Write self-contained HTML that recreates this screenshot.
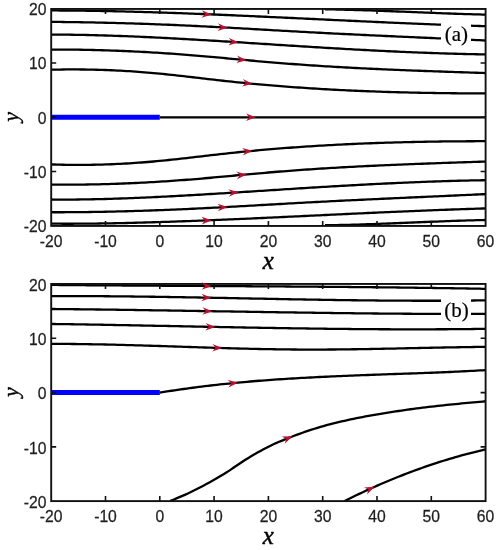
<!DOCTYPE html>
<html><head><meta charset="utf-8"><title>Streamlines</title>
<style>
html,body{margin:0;padding:0;background:#fff;}
body{width:500px;height:550px;overflow:hidden;}
svg{display:block;}
.t{font-family:"Liberation Sans",Arial,sans-serif;font-size:15.7px;fill:#1f1f1f;stroke:#1f1f1f;stroke-width:0.25px;}
.lab{font-family:"Liberation Serif","Times New Roman",serif;font-size:21px;fill:#000;stroke:#000;stroke-width:0.2px;}
.yl{font-family:"Liberation Serif","Times New Roman",serif;font-style:italic;font-size:22px;fill:#000;stroke:#000;stroke-width:0.45px;}
.xl{font-family:"Liberation Serif","Times New Roman",serif;font-style:italic;font-size:25px;fill:#000;stroke:#000;stroke-width:0.45px;}
</style></head><body>
<svg width="500" height="550" viewBox="0 0 500 550">
<defs><clipPath id="ca"><rect x="51.2" y="8.95" width="434.40000000000003" height="217.0"/></clipPath><clipPath id="cb"><rect x="51.2" y="283.95" width="434.40000000000003" height="217.15000000000003"/></clipPath></defs>
<rect width="500" height="550" fill="#fff"/>
<g clip-path="url(#ca)" fill="none" stroke="#000" stroke-width="2.3">
<path d="M325.0,9.33 L328.0,9.37 L331.1,9.42 L334.1,9.47 L337.1,9.53 L340.2,9.60 L343.2,9.66 L346.2,9.74 L349.2,9.81 L352.3,9.89 L355.3,9.98 L358.3,10.07 L361.4,10.16 L364.4,10.26 L367.4,10.36 L370.5,10.46 L373.5,10.56 L376.5,10.67 L379.5,10.78 L382.6,10.89 L385.6,11.01 L388.6,11.12 L391.7,11.24 L394.7,11.36 L397.7,11.48 L400.8,11.60 L403.8,11.72 L406.8,11.85 L409.8,11.97 L412.9,12.09 L415.9,12.22 L418.9,12.34 L422.0,12.46 L425.0,12.58 L428.0,12.71 L431.1,12.83 L434.1,12.95 L437.1,13.07 L440.1,13.18 L443.2,13.30 L446.2,13.41 L449.2,13.52 L452.3,13.63 L455.3,13.74 L458.3,13.84 L461.4,13.94 L464.4,14.04 L467.4,14.13 L470.4,14.22 L473.5,14.31 L476.5,14.39 L479.5,14.47 L482.6,14.55 L485.6,14.62"/>
<path d="M325.0,225.27 L328.0,225.23 L331.1,225.18 L334.1,225.13 L337.1,225.07 L340.2,225.00 L343.2,224.94 L346.2,224.86 L349.2,224.79 L352.3,224.71 L355.3,224.62 L358.3,224.53 L361.4,224.44 L364.4,224.34 L367.4,224.24 L370.5,224.14 L373.5,224.04 L376.5,223.93 L379.5,223.82 L382.6,223.71 L385.6,223.59 L388.6,223.48 L391.7,223.36 L394.7,223.24 L397.7,223.12 L400.8,223.00 L403.8,222.88 L406.8,222.75 L409.8,222.63 L412.9,222.51 L415.9,222.38 L418.9,222.26 L422.0,222.14 L425.0,222.02 L428.0,221.89 L431.1,221.77 L434.1,221.65 L437.1,221.53 L440.1,221.42 L443.2,221.30 L446.2,221.19 L449.2,221.08 L452.3,220.97 L455.3,220.86 L458.3,220.76 L461.4,220.66 L464.4,220.56 L467.4,220.47 L470.4,220.38 L473.5,220.29 L476.5,220.21 L479.5,220.13 L482.6,220.05 L485.6,219.98"/>
<path d="M51.0,10.44 L54.0,10.45 L57.0,10.46 L60.1,10.48 L63.1,10.50 L66.1,10.52 L69.1,10.55 L72.1,10.58 L75.1,10.61 L78.2,10.64 L81.2,10.68 L84.2,10.72 L87.2,10.76 L90.2,10.81 L93.3,10.86 L96.3,10.91 L99.3,10.96 L102.3,11.02 L105.3,11.07 L108.3,11.13 L111.4,11.20 L114.4,11.26 L117.4,11.33 L120.4,11.40 L123.4,11.47 L126.5,11.55 L129.5,11.62 L132.5,11.70 L135.5,11.78 L138.5,11.86 L141.5,11.95 L144.6,12.04 L147.6,12.12 L150.6,12.22 L153.6,12.31 L156.6,12.40 L159.7,12.50 L162.7,12.60 L165.7,12.70 L168.7,12.80 L171.7,12.90 L174.7,13.01 L177.8,13.11 L180.8,13.22 L183.8,13.33 L186.8,13.44 L189.8,13.55 L192.8,13.67 L195.9,13.78 L198.9,13.90 L201.9,14.02 L204.9,14.14 L207.9,14.26 L211.0,14.38 L214.0,14.51 L217.0,14.63 L220.0,14.76 L223.0,14.88 L226.0,15.01 L229.1,15.14 L232.1,15.27 L235.1,15.40 L238.1,15.53 L241.1,15.66 L244.2,15.80 L247.2,15.93 L250.2,16.07 L253.2,16.20 L256.2,16.34 L259.2,16.48 L262.3,16.61 L265.3,16.75 L268.3,16.89 L271.3,17.03 L274.3,17.17 L277.4,17.31 L280.4,17.45 L283.4,17.59 L286.4,17.74 L289.4,17.88 L292.4,18.02 L295.5,18.16 L298.5,18.31 L301.5,18.45 L304.5,18.59 L307.5,18.74 L310.6,18.88 L313.6,19.02 L316.6,19.17 L319.6,19.31 L322.6,19.45 L325.6,19.60 L328.7,19.74 L331.7,19.88 L334.7,20.03 L337.7,20.17 L340.7,20.31 L343.8,20.46 L346.8,20.60 L349.8,20.74 L352.8,20.88 L355.8,21.02 L358.8,21.16 L361.9,21.30 L364.9,21.44 L367.9,21.58 L370.9,21.72 L373.9,21.86 L377.0,21.99 L380.0,22.13 L383.0,22.26 L386.0,22.40 L389.0,22.53 L392.0,22.66 L395.1,22.80 L398.1,22.93 L401.1,23.06 L404.1,23.19 L407.1,23.32 L410.1,23.44 L413.2,23.57 L416.2,23.69 L419.2,23.82 L422.2,23.94 L425.2,24.06 L428.3,24.18 L431.3,24.30 L434.3,24.42 L437.3,24.53 L440.3,24.65 L443.3,24.76 L446.4,24.87 L449.4,24.98 L452.4,25.09 L455.4,25.20 L458.4,25.31 L461.5,25.41 L464.5,25.51 L467.5,25.61 L470.5,25.71 L473.5,25.81 L476.5,25.90 L479.6,26.00 L482.6,26.09 L485.6,26.18"/>
<path d="M51.0,223.66 L54.0,223.69 L57.0,223.71 L60.1,223.72 L63.1,223.73 L66.1,223.73 L69.1,223.73 L72.1,223.73 L75.1,223.72 L78.2,223.70 L81.2,223.68 L84.2,223.66 L87.2,223.63 L90.2,223.60 L93.3,223.57 L96.3,223.53 L99.3,223.49 L102.3,223.44 L105.3,223.40 L108.3,223.35 L111.4,223.29 L114.4,223.23 L117.4,223.17 L120.4,223.11 L123.4,223.05 L126.5,222.98 L129.5,222.91 L132.5,222.83 L135.5,222.76 L138.5,222.68 L141.5,222.60 L144.6,222.52 L147.6,222.43 L150.6,222.34 L153.6,222.25 L156.6,222.16 L159.7,222.07 L162.7,221.97 L165.7,221.87 L168.7,221.78 L171.7,221.67 L174.7,221.57 L177.8,221.47 L180.8,221.36 L183.8,221.25 L186.8,221.14 L189.8,221.03 L192.8,220.92 L195.9,220.80 L198.9,220.69 L201.9,220.57 L204.9,220.45 L207.9,220.33 L211.0,220.21 L214.0,220.09 L217.0,219.96 L220.0,219.84 L223.0,219.71 L226.0,219.58 L229.1,219.46 L232.1,219.33 L235.1,219.20 L238.1,219.06 L241.1,218.93 L244.2,218.80 L247.2,218.66 L250.2,218.53 L253.2,218.39 L256.2,218.26 L259.2,218.12 L262.3,217.98 L265.3,217.85 L268.3,217.71 L271.3,217.57 L274.3,217.43 L277.4,217.29 L280.4,217.15 L283.4,217.00 L286.4,216.86 L289.4,216.72 L292.4,216.58 L295.5,216.44 L298.5,216.29 L301.5,216.15 L304.5,216.01 L307.5,215.86 L310.6,215.72 L313.6,215.58 L316.6,215.43 L319.6,215.29 L322.6,215.14 L325.6,215.00 L328.7,214.86 L331.7,214.71 L334.7,214.57 L337.7,214.43 L340.7,214.29 L343.8,214.14 L346.8,214.00 L349.8,213.86 L352.8,213.72 L355.8,213.58 L358.8,213.44 L361.9,213.30 L364.9,213.16 L367.9,213.02 L370.9,212.88 L373.9,212.74 L377.0,212.61 L380.0,212.47 L383.0,212.34 L386.0,212.20 L389.0,212.07 L392.0,211.94 L395.1,211.80 L398.1,211.67 L401.1,211.54 L404.1,211.41 L407.1,211.28 L410.1,211.16 L413.2,211.03 L416.2,210.91 L419.2,210.78 L422.2,210.66 L425.2,210.54 L428.3,210.42 L431.3,210.30 L434.3,210.18 L437.3,210.07 L440.3,209.95 L443.3,209.84 L446.4,209.73 L449.4,209.62 L452.4,209.51 L455.4,209.40 L458.4,209.29 L461.5,209.19 L464.5,209.09 L467.5,208.99 L470.5,208.89 L473.5,208.79 L476.5,208.70 L479.6,208.60 L482.6,208.51 L485.6,208.42"/>
<path d="M51.0,21.89 L54.0,21.91 L57.0,21.94 L60.1,21.97 L63.1,22.00 L66.1,22.04 L69.1,22.07 L72.1,22.11 L75.1,22.16 L78.2,22.20 L81.2,22.25 L84.2,22.30 L87.2,22.36 L90.2,22.41 L93.3,22.47 L96.3,22.53 L99.3,22.60 L102.3,22.66 L105.3,22.73 L108.3,22.81 L111.4,22.88 L114.4,22.96 L117.4,23.04 L120.4,23.12 L123.4,23.20 L126.5,23.29 L129.5,23.38 L132.5,23.47 L135.5,23.57 L138.5,23.66 L141.5,23.76 L144.6,23.87 L147.6,23.97 L150.6,24.08 L153.6,24.19 L156.6,24.30 L159.7,24.41 L162.7,24.53 L165.7,24.65 L168.7,24.77 L171.7,24.90 L174.7,25.02 L177.8,25.15 L180.8,25.29 L183.8,25.42 L186.8,25.56 L189.8,25.70 L192.8,25.84 L195.9,25.98 L198.9,26.13 L201.9,26.28 L204.9,26.43 L207.9,26.58 L211.0,26.74 L214.0,26.89 L217.0,27.05 L220.0,27.21 L223.0,27.38 L226.0,27.54 L229.1,27.70 L232.1,27.87 L235.1,28.04 L238.1,28.21 L241.1,28.38 L244.2,28.55 L247.2,28.72 L250.2,28.89 L253.2,29.07 L256.2,29.24 L259.2,29.41 L262.3,29.58 L265.3,29.76 L268.3,29.93 L271.3,30.10 L274.3,30.28 L277.4,30.45 L280.4,30.62 L283.4,30.79 L286.4,30.96 L289.4,31.13 L292.4,31.30 L295.5,31.47 L298.5,31.64 L301.5,31.80 L304.5,31.96 L307.5,32.13 L310.6,32.29 L313.6,32.45 L316.6,32.60 L319.6,32.76 L322.6,32.92 L325.6,33.07 L328.7,33.23 L331.7,33.38 L334.7,33.53 L337.7,33.68 L340.7,33.83 L343.8,33.98 L346.8,34.13 L349.8,34.27 L352.8,34.42 L355.8,34.57 L358.8,34.71 L361.9,34.85 L364.9,35.00 L367.9,35.14 L370.9,35.28 L373.9,35.42 L377.0,35.56 L380.0,35.70 L383.0,35.84 L386.0,35.98 L389.0,36.12 L392.0,36.26 L395.1,36.39 L398.1,36.53 L401.1,36.67 L404.1,36.80 L407.1,36.94 L410.1,37.08 L413.2,37.21 L416.2,37.35 L419.2,37.48 L422.2,37.62 L425.2,37.75 L428.3,37.89 L431.3,38.02 L434.3,38.16 L437.3,38.30 L440.3,38.43 L443.3,38.57 L446.4,38.70 L449.4,38.84 L452.4,38.97 L455.4,39.11 L458.4,39.25 L461.5,39.39 L464.5,39.52 L467.5,39.66 L470.5,39.80 L473.5,39.94 L476.5,40.08 L479.6,40.22 L482.6,40.36 L485.6,40.50"/>
<path d="M51.0,212.21 L54.0,212.23 L57.0,212.23 L60.1,212.23 L63.1,212.23 L66.1,212.22 L69.1,212.21 L72.1,212.19 L75.1,212.17 L78.2,212.14 L81.2,212.11 L84.2,212.08 L87.2,212.04 L90.2,212.00 L93.3,211.95 L96.3,211.91 L99.3,211.85 L102.3,211.80 L105.3,211.74 L108.3,211.68 L111.4,211.61 L114.4,211.54 L117.4,211.47 L120.4,211.39 L123.4,211.32 L126.5,211.23 L129.5,211.15 L132.5,211.06 L135.5,210.97 L138.5,210.88 L141.5,210.78 L144.6,210.69 L147.6,210.58 L150.6,210.48 L153.6,210.37 L156.6,210.26 L159.7,210.15 L162.7,210.04 L165.7,209.92 L168.7,209.80 L171.7,209.68 L174.7,209.55 L177.8,209.42 L180.8,209.29 L183.8,209.16 L186.8,209.03 L189.8,208.89 L192.8,208.75 L195.9,208.61 L198.9,208.46 L201.9,208.31 L204.9,208.16 L207.9,208.01 L211.0,207.86 L214.0,207.70 L217.0,207.54 L220.0,207.38 L223.0,207.22 L226.0,207.05 L229.1,206.89 L232.1,206.72 L235.1,206.56 L238.1,206.39 L241.1,206.22 L244.2,206.05 L247.2,205.88 L250.2,205.70 L253.2,205.53 L256.2,205.36 L259.2,205.19 L262.3,205.01 L265.3,204.84 L268.3,204.67 L271.3,204.49 L274.3,204.32 L277.4,204.15 L280.4,203.98 L283.4,203.81 L286.4,203.64 L289.4,203.47 L292.4,203.30 L295.5,203.13 L298.5,202.96 L301.5,202.80 L304.5,202.64 L307.5,202.47 L310.6,202.31 L313.6,202.15 L316.6,201.99 L319.6,201.84 L322.6,201.68 L325.6,201.53 L328.7,201.37 L331.7,201.22 L334.7,201.07 L337.7,200.92 L340.7,200.77 L343.8,200.62 L346.8,200.47 L349.8,200.33 L352.8,200.18 L355.8,200.03 L358.8,199.89 L361.9,199.75 L364.9,199.60 L367.9,199.46 L370.9,199.32 L373.9,199.18 L377.0,199.04 L380.0,198.90 L383.0,198.76 L386.0,198.62 L389.0,198.48 L392.0,198.34 L395.1,198.21 L398.1,198.07 L401.1,197.93 L404.1,197.80 L407.1,197.66 L410.1,197.52 L413.2,197.39 L416.2,197.25 L419.2,197.12 L422.2,196.98 L425.2,196.85 L428.3,196.71 L431.3,196.58 L434.3,196.44 L437.3,196.30 L440.3,196.17 L443.3,196.03 L446.4,195.90 L449.4,195.76 L452.4,195.63 L455.4,195.49 L458.4,195.35 L461.5,195.21 L464.5,195.08 L467.5,194.94 L470.5,194.80 L473.5,194.66 L476.5,194.52 L479.6,194.38 L482.6,194.24 L485.6,194.10"/>
<path d="M51.0,34.58 L54.0,34.59 L57.0,34.60 L60.1,34.62 L63.1,34.65 L66.1,34.68 L69.1,34.71 L72.1,34.75 L75.1,34.80 L78.2,34.85 L81.2,34.90 L84.2,34.96 L87.2,35.02 L90.2,35.09 L93.3,35.16 L96.3,35.24 L99.3,35.32 L102.3,35.41 L105.3,35.49 L108.3,35.59 L111.4,35.68 L114.4,35.78 L117.4,35.89 L120.4,36.00 L123.4,36.11 L126.5,36.22 L129.5,36.34 L132.5,36.46 L135.5,36.59 L138.5,36.72 L141.5,36.85 L144.6,36.98 L147.6,37.12 L150.6,37.26 L153.6,37.41 L156.6,37.55 L159.7,37.70 L162.7,37.85 L165.7,38.01 L168.7,38.16 L171.7,38.32 L174.7,38.48 L177.8,38.65 L180.8,38.81 L183.8,38.98 L186.8,39.15 L189.8,39.32 L192.8,39.50 L195.9,39.67 L198.9,39.85 L201.9,40.03 L204.9,40.21 L207.9,40.39 L211.0,40.57 L214.0,40.75 L217.0,40.94 L220.0,41.13 L223.0,41.31 L226.0,41.50 L229.1,41.69 L232.1,41.88 L235.1,42.08 L238.1,42.27 L241.1,42.46 L244.2,42.65 L247.2,42.85 L250.2,43.04 L253.2,43.24 L256.2,43.43 L259.2,43.63 L262.3,43.82 L265.3,44.02 L268.3,44.21 L271.3,44.41 L274.3,44.60 L277.4,44.79 L280.4,44.99 L283.4,45.18 L286.4,45.38 L289.4,45.57 L292.4,45.76 L295.5,45.95 L298.5,46.14 L301.5,46.33 L304.5,46.52 L307.5,46.71 L310.6,46.89 L313.6,47.08 L316.6,47.26 L319.6,47.44 L322.6,47.63 L325.6,47.81 L328.7,47.99 L331.7,48.16 L334.7,48.34 L337.7,48.52 L340.7,48.69 L343.8,48.86 L346.8,49.03 L349.8,49.20 L352.8,49.37 L355.8,49.53 L358.8,49.70 L361.9,49.86 L364.9,50.02 L367.9,50.18 L370.9,50.33 L373.9,50.49 L377.0,50.64 L380.0,50.79 L383.0,50.94 L386.0,51.08 L389.0,51.23 L392.0,51.37 L395.1,51.51 L398.1,51.65 L401.1,51.78 L404.1,51.91 L407.1,52.04 L410.1,52.17 L413.2,52.30 L416.2,52.42 L419.2,52.54 L422.2,52.66 L425.2,52.77 L428.3,52.88 L431.3,52.99 L434.3,53.10 L437.3,53.20 L440.3,53.30 L443.3,53.40 L446.4,53.49 L449.4,53.58 L452.4,53.67 L455.4,53.76 L458.4,53.84 L461.5,53.92 L464.5,53.99 L467.5,54.06 L470.5,54.13 L473.5,54.20 L476.5,54.26 L479.6,54.32 L482.6,54.37 L485.6,54.42"/>
<path d="M51.0,199.52 L54.0,199.55 L57.0,199.57 L60.1,199.58 L63.1,199.58 L66.1,199.58 L69.1,199.57 L72.1,199.55 L75.1,199.53 L78.2,199.50 L81.2,199.46 L84.2,199.42 L87.2,199.37 L90.2,199.32 L93.3,199.26 L96.3,199.20 L99.3,199.13 L102.3,199.06 L105.3,198.98 L108.3,198.89 L111.4,198.81 L114.4,198.71 L117.4,198.62 L120.4,198.51 L123.4,198.41 L126.5,198.30 L129.5,198.19 L132.5,198.07 L135.5,197.95 L138.5,197.83 L141.5,197.70 L144.6,197.57 L147.6,197.43 L150.6,197.30 L153.6,197.16 L156.6,197.01 L159.7,196.87 L162.7,196.72 L165.7,196.56 L168.7,196.41 L171.7,196.25 L174.7,196.09 L177.8,195.93 L180.8,195.77 L183.8,195.60 L186.8,195.43 L189.8,195.26 L192.8,195.09 L195.9,194.92 L198.9,194.74 L201.9,194.56 L204.9,194.38 L207.9,194.20 L211.0,194.02 L214.0,193.84 L217.0,193.65 L220.0,193.47 L223.0,193.28 L226.0,193.09 L229.1,192.90 L232.1,192.71 L235.1,192.52 L238.1,192.33 L241.1,192.14 L244.2,191.94 L247.2,191.75 L250.2,191.56 L253.2,191.36 L256.2,191.17 L259.2,190.97 L262.3,190.78 L265.3,190.58 L268.3,190.39 L271.3,190.19 L274.3,190.00 L277.4,189.80 L280.4,189.61 L283.4,189.42 L286.4,189.22 L289.4,189.03 L292.4,188.84 L295.5,188.65 L298.5,188.46 L301.5,188.27 L304.5,188.08 L307.5,187.89 L310.6,187.71 L313.6,187.52 L316.6,187.34 L319.6,187.15 L322.6,186.97 L325.6,186.79 L328.7,186.61 L331.7,186.44 L334.7,186.26 L337.7,186.08 L340.7,185.91 L343.8,185.74 L346.8,185.57 L349.8,185.40 L352.8,185.23 L355.8,185.07 L358.8,184.90 L361.9,184.74 L364.9,184.58 L367.9,184.42 L370.9,184.27 L373.9,184.11 L377.0,183.96 L380.0,183.81 L383.0,183.66 L386.0,183.52 L389.0,183.37 L392.0,183.23 L395.1,183.09 L398.1,182.95 L401.1,182.82 L404.1,182.69 L407.1,182.56 L410.1,182.43 L413.2,182.30 L416.2,182.18 L419.2,182.06 L422.2,181.94 L425.2,181.83 L428.3,181.72 L431.3,181.61 L434.3,181.50 L437.3,181.40 L440.3,181.30 L443.3,181.20 L446.4,181.11 L449.4,181.02 L452.4,180.93 L455.4,180.84 L458.4,180.76 L461.5,180.68 L464.5,180.61 L467.5,180.54 L470.5,180.47 L473.5,180.40 L476.5,180.34 L479.6,180.28 L482.6,180.23 L485.6,180.18"/>
<path d="M51.0,49.55 L54.0,49.54 L57.0,49.55 L60.1,49.55 L63.1,49.57 L66.1,49.59 L69.1,49.61 L72.1,49.64 L75.1,49.68 L78.2,49.72 L81.2,49.77 L84.2,49.82 L87.2,49.88 L90.2,49.94 L93.3,50.01 L96.3,50.09 L99.3,50.17 L102.3,50.25 L105.3,50.35 L108.3,50.44 L111.4,50.54 L114.4,50.65 L117.4,50.77 L120.4,50.88 L123.4,51.01 L126.5,51.14 L129.5,51.27 L132.5,51.41 L135.5,51.56 L138.5,51.71 L141.5,51.86 L144.6,52.02 L147.6,52.19 L150.6,52.36 L153.6,52.54 L156.6,52.72 L159.7,52.91 L162.7,53.10 L165.7,53.29 L168.7,53.50 L171.7,53.70 L174.7,53.92 L177.8,54.13 L180.8,54.36 L183.8,54.58 L186.8,54.82 L189.8,55.05 L192.8,55.30 L195.9,55.55 L198.9,55.80 L201.9,56.06 L204.9,56.32 L207.9,56.58 L211.0,56.86 L214.0,57.13 L217.0,57.40 L220.0,57.68 L223.0,57.96 L226.0,58.25 L229.1,58.53 L232.1,58.81 L235.1,59.09 L238.1,59.38 L241.1,59.66 L244.2,59.94 L247.2,60.21 L250.2,60.49 L253.2,60.76 L256.2,61.03 L259.2,61.30 L262.3,61.56 L265.3,61.82 L268.3,62.08 L271.3,62.33 L274.3,62.58 L277.4,62.83 L280.4,63.07 L283.4,63.31 L286.4,63.55 L289.4,63.78 L292.4,64.01 L295.5,64.24 L298.5,64.46 L301.5,64.67 L304.5,64.89 L307.5,65.10 L310.6,65.30 L313.6,65.51 L316.6,65.70 L319.6,65.90 L322.6,66.09 L325.6,66.28 L328.7,66.46 L331.7,66.64 L334.7,66.82 L337.7,67.00 L340.7,67.17 L343.8,67.34 L346.8,67.50 L349.8,67.66 L352.8,67.82 L355.8,67.98 L358.8,68.13 L361.9,68.29 L364.9,68.43 L367.9,68.58 L370.9,68.73 L373.9,68.87 L377.0,69.01 L380.0,69.14 L383.0,69.28 L386.0,69.41 L389.0,69.54 L392.0,69.67 L395.1,69.80 L398.1,69.92 L401.1,70.05 L404.1,70.17 L407.1,70.29 L410.1,70.41 L413.2,70.53 L416.2,70.64 L419.2,70.76 L422.2,70.87 L425.2,70.98 L428.3,71.09 L431.3,71.20 L434.3,71.31 L437.3,71.42 L440.3,71.52 L443.3,71.63 L446.4,71.74 L449.4,71.84 L452.4,71.94 L455.4,72.05 L458.4,72.15 L461.5,72.25 L464.5,72.36 L467.5,72.46 L470.5,72.56 L473.5,72.66 L476.5,72.76 L479.6,72.86 L482.6,72.97 L485.6,73.07"/>
<path d="M51.0,184.55 L54.0,184.59 L57.0,184.62 L60.1,184.65 L63.1,184.66 L66.1,184.67 L69.1,184.67 L72.1,184.66 L75.1,184.65 L78.2,184.63 L81.2,184.60 L84.2,184.56 L87.2,184.52 L90.2,184.47 L93.3,184.41 L96.3,184.35 L99.3,184.28 L102.3,184.21 L105.3,184.13 L108.3,184.04 L111.4,183.94 L114.4,183.85 L117.4,183.74 L120.4,183.63 L123.4,183.51 L126.5,183.39 L129.5,183.26 L132.5,183.12 L135.5,182.98 L138.5,182.84 L141.5,182.69 L144.6,182.53 L147.6,182.37 L150.6,182.20 L153.6,182.03 L156.6,181.85 L159.7,181.66 L162.7,181.47 L165.7,181.28 L168.7,181.08 L171.7,180.87 L174.7,180.66 L177.8,180.44 L180.8,180.22 L183.8,180.00 L186.8,179.77 L189.8,179.53 L192.8,179.29 L195.9,179.04 L198.9,178.79 L201.9,178.53 L204.9,178.27 L207.9,178.01 L211.0,177.74 L214.0,177.46 L217.0,177.19 L220.0,176.91 L223.0,176.63 L226.0,176.35 L229.1,176.07 L232.1,175.78 L235.1,175.50 L238.1,175.22 L241.1,174.94 L244.2,174.66 L247.2,174.38 L250.2,174.11 L253.2,173.83 L256.2,173.56 L259.2,173.30 L262.3,173.04 L265.3,172.78 L268.3,172.52 L271.3,172.27 L274.3,172.01 L277.4,171.77 L280.4,171.52 L283.4,171.28 L286.4,171.05 L289.4,170.82 L292.4,170.59 L295.5,170.36 L298.5,170.14 L301.5,169.92 L304.5,169.71 L307.5,169.50 L310.6,169.30 L313.6,169.09 L316.6,168.90 L319.6,168.70 L322.6,168.51 L325.6,168.32 L328.7,168.14 L331.7,167.96 L334.7,167.78 L337.7,167.60 L340.7,167.43 L343.8,167.26 L346.8,167.10 L349.8,166.94 L352.8,166.78 L355.8,166.62 L358.8,166.47 L361.9,166.31 L364.9,166.16 L367.9,166.02 L370.9,165.87 L373.9,165.73 L377.0,165.59 L380.0,165.46 L383.0,165.32 L386.0,165.19 L389.0,165.06 L392.0,164.93 L395.1,164.80 L398.1,164.68 L401.1,164.55 L404.1,164.43 L407.1,164.31 L410.1,164.19 L413.2,164.07 L416.2,163.96 L419.2,163.84 L422.2,163.73 L425.2,163.62 L428.3,163.51 L431.3,163.40 L434.3,163.29 L437.3,163.18 L440.3,163.08 L443.3,162.97 L446.4,162.86 L449.4,162.76 L452.4,162.66 L455.4,162.55 L458.4,162.45 L461.5,162.35 L464.5,162.24 L467.5,162.14 L470.5,162.04 L473.5,161.94 L476.5,161.84 L479.6,161.74 L482.6,161.63 L485.6,161.53"/>
<path d="M51.0,69.72 L54.0,69.65 L57.0,69.59 L60.1,69.54 L63.1,69.50 L66.1,69.47 L69.1,69.46 L72.1,69.45 L75.1,69.45 L78.2,69.46 L81.2,69.48 L84.2,69.51 L87.2,69.56 L90.2,69.61 L93.3,69.67 L96.3,69.74 L99.3,69.83 L102.3,69.92 L105.3,70.02 L108.3,70.14 L111.4,70.26 L114.4,70.39 L117.4,70.54 L120.4,70.69 L123.4,70.86 L126.5,71.03 L129.5,71.22 L132.5,71.42 L135.5,71.62 L138.5,71.84 L141.5,72.07 L144.6,72.31 L147.6,72.56 L150.6,72.81 L153.6,73.08 L156.6,73.36 L159.7,73.65 L162.7,73.95 L165.7,74.26 L168.7,74.57 L171.7,74.89 L174.7,75.21 L177.8,75.55 L180.8,75.88 L183.8,76.22 L186.8,76.57 L189.8,76.91 L192.8,77.26 L195.9,77.61 L198.9,77.96 L201.9,78.32 L204.9,78.67 L207.9,79.02 L211.0,79.37 L214.0,79.72 L217.0,80.06 L220.0,80.40 L223.0,80.74 L226.0,81.07 L229.1,81.40 L232.1,81.72 L235.1,82.03 L238.1,82.35 L241.1,82.65 L244.2,82.95 L247.2,83.25 L250.2,83.54 L253.2,83.82 L256.2,84.10 L259.2,84.38 L262.3,84.65 L265.3,84.91 L268.3,85.17 L271.3,85.43 L274.3,85.68 L277.4,85.92 L280.4,86.16 L283.4,86.40 L286.4,86.63 L289.4,86.86 L292.4,87.08 L295.5,87.30 L298.5,87.51 L301.5,87.72 L304.5,87.93 L307.5,88.13 L310.6,88.32 L313.6,88.51 L316.6,88.70 L319.6,88.88 L322.6,89.06 L325.6,89.23 L328.7,89.40 L331.7,89.57 L334.7,89.73 L337.7,89.89 L340.7,90.04 L343.8,90.19 L346.8,90.34 L349.8,90.48 L352.8,90.62 L355.8,90.75 L358.8,90.88 L361.9,91.01 L364.9,91.13 L367.9,91.25 L370.9,91.36 L373.9,91.47 L377.0,91.58 L380.0,91.69 L383.0,91.79 L386.0,91.89 L389.0,91.98 L392.0,92.07 L395.1,92.16 L398.1,92.24 L401.1,92.32 L404.1,92.40 L407.1,92.47 L410.1,92.55 L413.2,92.61 L416.2,92.68 L419.2,92.74 L422.2,92.80 L425.2,92.85 L428.3,92.91 L431.3,92.96 L434.3,93.00 L437.3,93.05 L440.3,93.09 L443.3,93.13 L446.4,93.16 L449.4,93.20 L452.4,93.23 L455.4,93.26 L458.4,93.28 L461.5,93.30 L464.5,93.32 L467.5,93.34 L470.5,93.36 L473.5,93.37 L476.5,93.38 L479.6,93.39 L482.6,93.39 L485.6,93.40"/>
<path d="M51.0,164.38 L54.0,164.49 L57.0,164.58 L60.1,164.66 L63.1,164.73 L66.1,164.78 L69.1,164.83 L72.1,164.86 L75.1,164.88 L78.2,164.89 L81.2,164.88 L84.2,164.87 L87.2,164.84 L90.2,164.80 L93.3,164.76 L96.3,164.70 L99.3,164.62 L102.3,164.54 L105.3,164.45 L108.3,164.35 L111.4,164.23 L114.4,164.10 L117.4,163.97 L120.4,163.82 L123.4,163.66 L126.5,163.49 L129.5,163.31 L132.5,163.12 L135.5,162.92 L138.5,162.70 L141.5,162.48 L144.6,162.25 L147.6,162.00 L150.6,161.74 L153.6,161.48 L156.6,161.20 L159.7,160.91 L162.7,160.62 L165.7,160.32 L168.7,160.01 L171.7,159.69 L174.7,159.36 L177.8,159.03 L180.8,158.70 L183.8,158.36 L186.8,158.02 L189.8,157.67 L192.8,157.32 L195.9,156.97 L198.9,156.62 L201.9,156.27 L204.9,155.92 L207.9,155.57 L211.0,155.22 L214.0,154.88 L217.0,154.53 L220.0,154.19 L223.0,153.85 L226.0,153.52 L229.1,153.20 L232.1,152.88 L235.1,152.56 L238.1,152.25 L241.1,151.94 L244.2,151.64 L247.2,151.35 L250.2,151.06 L253.2,150.77 L256.2,150.49 L259.2,150.22 L262.3,149.95 L265.3,149.69 L268.3,149.43 L271.3,149.17 L274.3,148.92 L277.4,148.67 L280.4,148.43 L283.4,148.20 L286.4,147.97 L289.4,147.74 L292.4,147.52 L295.5,147.30 L298.5,147.09 L301.5,146.88 L304.5,146.67 L307.5,146.47 L310.6,146.28 L313.6,146.09 L316.6,145.90 L319.6,145.72 L322.6,145.54 L325.6,145.37 L328.7,145.20 L331.7,145.03 L334.7,144.87 L337.7,144.71 L340.7,144.56 L343.8,144.41 L346.8,144.26 L349.8,144.12 L352.8,143.98 L355.8,143.85 L358.8,143.72 L361.9,143.59 L364.9,143.47 L367.9,143.35 L370.9,143.24 L373.9,143.13 L377.0,143.02 L380.0,142.91 L383.0,142.81 L386.0,142.71 L389.0,142.62 L392.0,142.53 L395.1,142.44 L398.1,142.36 L401.1,142.28 L404.1,142.20 L407.1,142.13 L410.1,142.05 L413.2,141.99 L416.2,141.92 L419.2,141.86 L422.2,141.80 L425.2,141.75 L428.3,141.69 L431.3,141.64 L434.3,141.60 L437.3,141.55 L440.3,141.51 L443.3,141.47 L446.4,141.44 L449.4,141.40 L452.4,141.37 L455.4,141.34 L458.4,141.32 L461.5,141.30 L464.5,141.28 L467.5,141.26 L470.5,141.24 L473.5,141.23 L476.5,141.22 L479.6,141.21 L482.6,141.21 L485.6,141.20"/>
<path d="M159.8,117.3 H485.6"/>
</g>
<path d="M51.2,117.3 H159.8" stroke="#0000ff" stroke-width="5" fill="none"/>
<rect x="441" y="20" width="30" height="27" fill="#fff"/>
<text x="456.3" y="41.4" text-anchor="middle" class="lab">(a)</text>
<path d="M105.50,225.95 v-5.0 M105.50,8.95 v5.0" stroke="#111" stroke-width="1.6" fill="none"/>
<path d="M159.80,225.95 v-5.0 M159.80,8.95 v5.0" stroke="#111" stroke-width="1.6" fill="none"/>
<path d="M214.10,225.95 v-5.0 M214.10,8.95 v5.0" stroke="#111" stroke-width="1.6" fill="none"/>
<path d="M268.40,225.95 v-5.0 M268.40,8.95 v5.0" stroke="#111" stroke-width="1.6" fill="none"/>
<path d="M322.70,225.95 v-5.0 M322.70,8.95 v5.0" stroke="#111" stroke-width="1.6" fill="none"/>
<path d="M377.00,225.95 v-5.0 M377.00,8.95 v5.0" stroke="#111" stroke-width="1.6" fill="none"/>
<path d="M431.30,225.95 v-5.0 M431.30,8.95 v5.0" stroke="#111" stroke-width="1.6" fill="none"/>
<path d="M51.2,171.55 h5.0 M485.6,171.55 h-5.0" stroke="#111" stroke-width="1.6" fill="none"/>
<path d="M51.2,117.30 h5.0 M485.6,117.30 h-5.0" stroke="#111" stroke-width="1.6" fill="none"/>
<path d="M51.2,63.05 h5.0 M485.6,63.05 h-5.0" stroke="#111" stroke-width="1.6" fill="none"/>
<rect x="51.2" y="8.95" width="434.40" height="217.00" fill="none" stroke="#111" stroke-width="1.9"/>
<path transform="translate(211.7,14.41) rotate(2.3)" d="M0,0 L-10,-3.8 L-6.8,0 L-10,3.8 Z" fill="#b5122f"/>
<path transform="translate(211.7,220.18) rotate(-2.3)" d="M0,0 L-10,-3.8 L-6.8,0 L-10,3.8 Z" fill="#b5122f"/>
<path transform="translate(227.7,27.63) rotate(3.1)" d="M0,0 L-10,-3.8 L-6.8,0 L-10,3.8 Z" fill="#b5122f"/>
<path transform="translate(227.7,206.96) rotate(-3.1)" d="M0,0 L-10,-3.8 L-6.8,0 L-10,3.8 Z" fill="#b5122f"/>
<path transform="translate(238.6,42.30) rotate(3.6)" d="M0,0 L-10,-3.8 L-6.8,0 L-10,3.8 Z" fill="#b5122f"/>
<path transform="translate(238.6,192.30) rotate(-3.6)" d="M0,0 L-10,-3.8 L-6.8,0 L-10,3.8 Z" fill="#b5122f"/>
<path transform="translate(246.6,60.16) rotate(5.3)" d="M0,0 L-10,-3.8 L-6.8,0 L-10,3.8 Z" fill="#b5122f"/>
<path transform="translate(246.6,174.43) rotate(-5.3)" d="M0,0 L-10,-3.8 L-6.8,0 L-10,3.8 Z" fill="#b5122f"/>
<path transform="translate(252.5,83.76) rotate(5.5)" d="M0,0 L-10,-3.8 L-6.8,0 L-10,3.8 Z" fill="#b5122f"/>
<path transform="translate(252.5,150.84) rotate(-5.5)" d="M0,0 L-10,-3.8 L-6.8,0 L-10,3.8 Z" fill="#b5122f"/>
<path transform="translate(256.0,117.30) rotate(0.0)" d="M0,0 L-10,-3.8 L-6.8,0 L-10,3.8 Z" fill="#b5122f"/>
<text transform="translate(51.2,246.8) scale(1,1.03)" text-anchor="middle" class="t">-20</text>
<text transform="translate(105.5,246.8) scale(1,1.03)" text-anchor="middle" class="t">-10</text>
<text transform="translate(159.8,246.8) scale(1,1.03)" text-anchor="middle" class="t">0</text>
<text transform="translate(214.1,246.8) scale(1,1.03)" text-anchor="middle" class="t">10</text>
<text transform="translate(268.4,246.8) scale(1,1.03)" text-anchor="middle" class="t">20</text>
<text transform="translate(322.7,246.8) scale(1,1.03)" text-anchor="middle" class="t">30</text>
<text transform="translate(377.0,246.8) scale(1,1.03)" text-anchor="middle" class="t">40</text>
<text transform="translate(431.3,246.8) scale(1,1.03)" text-anchor="middle" class="t">50</text>
<text transform="translate(485.6,246.8) scale(1,1.03)" text-anchor="middle" class="t">60</text>
<text transform="translate(46.5,232.4) scale(1,1.03)" text-anchor="end" class="t">-20</text>
<text transform="translate(46.5,178.2) scale(1,1.03)" text-anchor="end" class="t">-10</text>
<text transform="translate(46.5,123.9) scale(1,1.03)" text-anchor="end" class="t">0</text>
<text transform="translate(46.5,69.2) scale(1,1.03)" text-anchor="end" class="t">10</text>
<text transform="translate(46.5,14.7) scale(1,1.03)" text-anchor="end" class="t">20</text>
<text x="268.3" y="269.1" text-anchor="middle" class="xl">x</text>
<text transform="translate(17.7,116.89999999999999) rotate(-90)" text-anchor="middle" class="yl">y</text>
<g clip-path="url(#cb)" fill="none" stroke="#000" stroke-width="2.3">
<path d="M51.0,284.91 L54.0,284.94 L57.0,284.97 L60.1,285.00 L63.1,285.03 L66.1,285.05 L69.1,285.08 L72.1,285.10 L75.1,285.13 L78.2,285.15 L81.2,285.18 L84.2,285.20 L87.2,285.23 L90.2,285.25 L93.3,285.27 L96.3,285.30 L99.3,285.32 L102.3,285.34 L105.3,285.36 L108.3,285.39 L111.4,285.41 L114.4,285.43 L117.4,285.45 L120.4,285.47 L123.4,285.49 L126.5,285.51 L129.5,285.53 L132.5,285.55 L135.5,285.57 L138.5,285.59 L141.5,285.61 L144.6,285.63 L147.6,285.65 L150.6,285.67 L153.6,285.69 L156.6,285.70 L159.7,285.72 L162.7,285.74 L165.7,285.76 L168.7,285.78 L171.7,285.80 L174.7,285.81 L177.8,285.83 L180.8,285.85 L183.8,285.87 L186.8,285.88 L189.8,285.90 L192.8,285.92 L195.9,285.94 L198.9,285.95 L201.9,285.97 L204.9,285.99 L207.9,286.01 L211.0,286.02 L214.0,286.04 L217.0,286.06 L220.0,286.08 L223.0,286.09 L226.0,286.11 L229.1,286.13 L232.1,286.15 L235.1,286.17 L238.1,286.18 L241.1,286.20 L244.2,286.22 L247.2,286.24 L250.2,286.26 L253.2,286.28 L256.2,286.30 L259.2,286.31 L262.3,286.33 L265.3,286.35 L268.3,286.37 L271.3,286.39 L274.3,286.41 L277.4,286.43 L280.4,286.45 L283.4,286.47 L286.4,286.49 L289.4,286.51 L292.4,286.54 L295.5,286.56 L298.5,286.58 L301.5,286.60 L304.5,286.62 L307.5,286.65 L310.6,286.67 L313.6,286.69 L316.6,286.72 L319.6,286.74 L322.6,286.77 L325.6,286.79 L328.7,286.81 L331.7,286.84 L334.7,286.87 L337.7,286.89 L340.7,286.92 L343.8,286.95 L346.8,286.97 L349.8,287.00 L352.8,287.03 L355.8,287.06 L358.8,287.09 L361.9,287.12 L364.9,287.15 L367.9,287.18 L370.9,287.21 L373.9,287.24 L377.0,287.27 L380.0,287.30 L383.0,287.34 L386.0,287.37 L389.0,287.41 L392.0,287.44 L395.1,287.47 L398.1,287.51 L401.1,287.55 L404.1,287.58 L407.1,287.62 L410.1,287.66 L413.2,287.70 L416.2,287.74 L419.2,287.78 L422.2,287.82 L425.2,287.86 L428.3,287.90 L431.3,287.94 L434.3,287.99 L437.3,288.03 L440.3,288.08 L443.3,288.12 L446.4,288.17 L449.4,288.21 L452.4,288.26 L455.4,288.31 L458.4,288.36 L461.5,288.41 L464.5,288.46 L467.5,288.51 L470.5,288.56 L473.5,288.61 L476.5,288.67 L479.6,288.72 L482.6,288.78 L485.6,288.83"/>
<path d="M51.0,296.11 L54.0,296.10 L57.0,296.09 L60.1,296.09 L63.1,296.08 L66.1,296.08 L69.1,296.08 L72.1,296.08 L75.1,296.09 L78.2,296.10 L81.2,296.10 L84.2,296.11 L87.2,296.13 L90.2,296.14 L93.3,296.16 L96.3,296.17 L99.3,296.19 L102.3,296.21 L105.3,296.23 L108.3,296.26 L111.4,296.28 L114.4,296.31 L117.4,296.34 L120.4,296.37 L123.4,296.40 L126.5,296.43 L129.5,296.46 L132.5,296.50 L135.5,296.53 L138.5,296.57 L141.5,296.61 L144.6,296.65 L147.6,296.69 L150.6,296.73 L153.6,296.77 L156.6,296.81 L159.7,296.86 L162.7,296.90 L165.7,296.95 L168.7,297.00 L171.7,297.05 L174.7,297.09 L177.8,297.14 L180.8,297.19 L183.8,297.24 L186.8,297.30 L189.8,297.35 L192.8,297.40 L195.9,297.46 L198.9,297.51 L201.9,297.56 L204.9,297.62 L207.9,297.68 L211.0,297.73 L214.0,297.79 L217.0,297.84 L220.0,297.90 L223.0,297.96 L226.0,298.02 L229.1,298.07 L232.1,298.13 L235.1,298.19 L238.1,298.25 L241.1,298.31 L244.2,298.37 L247.2,298.42 L250.2,298.48 L253.2,298.54 L256.2,298.60 L259.2,298.66 L262.3,298.72 L265.3,298.77 L268.3,298.83 L271.3,298.89 L274.3,298.95 L277.4,299.00 L280.4,299.06 L283.4,299.12 L286.4,299.17 L289.4,299.23 L292.4,299.28 L295.5,299.34 L298.5,299.39 L301.5,299.45 L304.5,299.50 L307.5,299.55 L310.6,299.60 L313.6,299.65 L316.6,299.70 L319.6,299.75 L322.6,299.80 L325.6,299.85 L328.7,299.90 L331.7,299.94 L334.7,299.99 L337.7,300.03 L340.7,300.07 L343.8,300.12 L346.8,300.16 L349.8,300.20 L352.8,300.24 L355.8,300.27 L358.8,300.31 L361.9,300.34 L364.9,300.38 L367.9,300.41 L370.9,300.44 L373.9,300.47 L377.0,300.50 L380.0,300.53 L383.0,300.55 L386.0,300.58 L389.0,300.60 L392.0,300.62 L395.1,300.64 L398.1,300.66 L401.1,300.68 L404.1,300.69 L407.1,300.71 L410.1,300.72 L413.2,300.73 L416.2,300.73 L419.2,300.74 L422.2,300.74 L425.2,300.75 L428.3,300.75 L431.3,300.75 L434.3,300.74 L437.3,300.74 L440.3,300.73 L443.3,300.72 L446.4,300.71 L449.4,300.69 L452.4,300.68 L455.4,300.66 L458.4,300.64 L461.5,300.61 L464.5,300.59 L467.5,300.56 L470.5,300.53 L473.5,300.50 L476.5,300.46 L479.6,300.42 L482.6,300.38 L485.6,300.34"/>
<path d="M51.0,308.99 L54.0,309.02 L57.0,309.05 L60.1,309.08 L63.1,309.11 L66.1,309.14 L69.1,309.17 L72.1,309.20 L75.1,309.23 L78.2,309.27 L81.2,309.30 L84.2,309.33 L87.2,309.37 L90.2,309.41 L93.3,309.44 L96.3,309.48 L99.3,309.52 L102.3,309.56 L105.3,309.59 L108.3,309.63 L111.4,309.67 L114.4,309.71 L117.4,309.75 L120.4,309.80 L123.4,309.84 L126.5,309.88 L129.5,309.92 L132.5,309.96 L135.5,310.01 L138.5,310.05 L141.5,310.10 L144.6,310.14 L147.6,310.19 L150.6,310.23 L153.6,310.28 L156.6,310.32 L159.7,310.37 L162.7,310.41 L165.7,310.46 L168.7,310.51 L171.7,310.55 L174.7,310.60 L177.8,310.65 L180.8,310.70 L183.8,310.74 L186.8,310.79 L189.8,310.84 L192.8,310.89 L195.9,310.94 L198.9,310.99 L201.9,311.03 L204.9,311.08 L207.9,311.13 L211.0,311.18 L214.0,311.23 L217.0,311.28 L220.0,311.33 L223.0,311.37 L226.0,311.42 L229.1,311.47 L232.1,311.52 L235.1,311.57 L238.1,311.62 L241.1,311.67 L244.2,311.71 L247.2,311.76 L250.2,311.81 L253.2,311.86 L256.2,311.90 L259.2,311.95 L262.3,312.00 L265.3,312.05 L268.3,312.09 L271.3,312.14 L274.3,312.19 L277.4,312.23 L280.4,312.28 L283.4,312.32 L286.4,312.37 L289.4,312.41 L292.4,312.46 L295.5,312.50 L298.5,312.55 L301.5,312.59 L304.5,312.63 L307.5,312.67 L310.6,312.72 L313.6,312.76 L316.6,312.80 L319.6,312.84 L322.6,312.88 L325.6,312.92 L328.7,312.96 L331.7,313.00 L334.7,313.04 L337.7,313.07 L340.7,313.11 L343.8,313.15 L346.8,313.18 L349.8,313.22 L352.8,313.25 L355.8,313.29 L358.8,313.32 L361.9,313.35 L364.9,313.38 L367.9,313.42 L370.9,313.45 L373.9,313.48 L377.0,313.50 L380.0,313.53 L383.0,313.56 L386.0,313.59 L389.0,313.61 L392.0,313.64 L395.1,313.66 L398.1,313.69 L401.1,313.71 L404.1,313.73 L407.1,313.75 L410.1,313.77 L413.2,313.79 L416.2,313.81 L419.2,313.83 L422.2,313.84 L425.2,313.86 L428.3,313.87 L431.3,313.88 L434.3,313.90 L437.3,313.91 L440.3,313.92 L443.3,313.93 L446.4,313.94 L449.4,313.94 L452.4,313.95 L455.4,313.95 L458.4,313.96 L461.5,313.96 L464.5,313.96 L467.5,313.96 L470.5,313.96 L473.5,313.96 L476.5,313.96 L479.6,313.95 L482.6,313.94 L485.6,313.94"/>
<path d="M51.0,323.95 L54.0,323.99 L57.0,324.04 L60.1,324.08 L63.1,324.12 L66.1,324.17 L69.1,324.22 L72.1,324.26 L75.1,324.31 L78.2,324.36 L81.2,324.41 L84.2,324.46 L87.2,324.51 L90.2,324.56 L93.3,324.61 L96.3,324.66 L99.3,324.71 L102.3,324.77 L105.3,324.82 L108.3,324.88 L111.4,324.93 L114.4,324.98 L117.4,325.04 L120.4,325.10 L123.4,325.15 L126.5,325.21 L129.5,325.26 L132.5,325.32 L135.5,325.38 L138.5,325.44 L141.5,325.49 L144.6,325.55 L147.6,325.61 L150.6,325.67 L153.6,325.73 L156.6,325.79 L159.7,325.85 L162.7,325.91 L165.7,325.97 L168.7,326.02 L171.7,326.08 L174.7,326.14 L177.8,326.20 L180.8,326.26 L183.8,326.32 L186.8,326.38 L189.8,326.44 L192.8,326.50 L195.9,326.56 L198.9,326.62 L201.9,326.68 L204.9,326.74 L207.9,326.79 L211.0,326.85 L214.0,326.91 L217.0,326.97 L220.0,327.03 L223.0,327.09 L226.0,327.14 L229.1,327.20 L232.1,327.26 L235.1,327.31 L238.1,327.37 L241.1,327.42 L244.2,327.48 L247.2,327.53 L250.2,327.59 L253.2,327.64 L256.2,327.69 L259.2,327.75 L262.3,327.80 L265.3,327.85 L268.3,327.90 L271.3,327.95 L274.3,328.00 L277.4,328.05 L280.4,328.10 L283.4,328.15 L286.4,328.20 L289.4,328.24 L292.4,328.29 L295.5,328.34 L298.5,328.38 L301.5,328.42 L304.5,328.47 L307.5,328.51 L310.6,328.55 L313.6,328.59 L316.6,328.63 L319.6,328.67 L322.6,328.71 L325.6,328.74 L328.7,328.78 L331.7,328.81 L334.7,328.85 L337.7,328.88 L340.7,328.91 L343.8,328.94 L346.8,328.97 L349.8,329.00 L352.8,329.03 L355.8,329.06 L358.8,329.08 L361.9,329.11 L364.9,329.13 L367.9,329.15 L370.9,329.17 L373.9,329.19 L377.0,329.21 L380.0,329.23 L383.0,329.24 L386.0,329.26 L389.0,329.27 L392.0,329.28 L395.1,329.29 L398.1,329.30 L401.1,329.31 L404.1,329.31 L407.1,329.32 L410.1,329.32 L413.2,329.32 L416.2,329.32 L419.2,329.32 L422.2,329.31 L425.2,329.31 L428.3,329.30 L431.3,329.30 L434.3,329.29 L437.3,329.27 L440.3,329.26 L443.3,329.25 L446.4,329.23 L449.4,329.21 L452.4,329.19 L455.4,329.17 L458.4,329.15 L461.5,329.12 L464.5,329.10 L467.5,329.07 L470.5,329.04 L473.5,329.00 L476.5,328.97 L479.6,328.93 L482.6,328.89 L485.6,328.85"/>
<path d="M51.0,343.89 L54.0,343.89 L57.0,343.90 L60.1,343.91 L63.1,343.92 L66.1,343.94 L69.1,343.96 L72.1,343.99 L75.1,344.02 L78.2,344.05 L81.2,344.09 L84.2,344.13 L87.2,344.18 L90.2,344.23 L93.3,344.28 L96.3,344.33 L99.3,344.39 L102.3,344.45 L105.3,344.52 L108.3,344.58 L111.4,344.65 L114.4,344.72 L117.4,344.80 L120.4,344.87 L123.4,344.95 L126.5,345.03 L129.5,345.11 L132.5,345.20 L135.5,345.28 L138.5,345.37 L141.5,345.46 L144.6,345.55 L147.6,345.64 L150.6,345.74 L153.6,345.83 L156.6,345.93 L159.7,346.02 L162.7,346.12 L165.7,346.22 L168.7,346.31 L171.7,346.41 L174.7,346.51 L177.8,346.61 L180.8,346.71 L183.8,346.81 L186.8,346.91 L189.8,347.01 L192.8,347.11 L195.9,347.20 L198.9,347.30 L201.9,347.40 L204.9,347.50 L207.9,347.59 L211.0,347.69 L214.0,347.78 L217.0,347.87 L220.0,347.96 L223.0,348.05 L226.0,348.14 L229.1,348.23 L232.1,348.31 L235.1,348.40 L238.1,348.48 L241.1,348.56 L244.2,348.63 L247.2,348.71 L250.2,348.78 L253.2,348.85 L256.2,348.92 L259.2,348.98 L262.3,349.05 L265.3,349.10 L268.3,349.16 L271.3,349.21 L274.3,349.26 L277.4,349.31 L280.4,349.35 L283.4,349.39 L286.4,349.43 L289.4,349.46 L292.4,349.49 L295.5,349.51 L298.5,349.53 L301.5,349.55 L304.5,349.56 L307.5,349.57 L310.6,349.57 L313.6,349.57 L316.6,349.57 L319.6,349.56 L322.6,349.55 L325.6,349.54 L328.7,349.52 L331.7,349.50 L334.7,349.48 L337.7,349.45 L340.7,349.42 L343.8,349.39 L346.8,349.35 L349.8,349.31 L352.8,349.27 L355.8,349.23 L358.8,349.19 L361.9,349.14 L364.9,349.09 L367.9,349.04 L370.9,348.99 L373.9,348.94 L377.0,348.88 L380.0,348.83 L383.0,348.77 L386.0,348.71 L389.0,348.65 L392.0,348.59 L395.1,348.53 L398.1,348.46 L401.1,348.40 L404.1,348.34 L407.1,348.27 L410.1,348.21 L413.2,348.15 L416.2,348.08 L419.2,348.02 L422.2,347.95 L425.2,347.89 L428.3,347.82 L431.3,347.76 L434.3,347.70 L437.3,347.64 L440.3,347.58 L443.3,347.52 L446.4,347.46 L449.4,347.40 L452.4,347.34 L455.4,347.29 L458.4,347.23 L461.5,347.18 L464.5,347.13 L467.5,347.08 L470.5,347.04 L473.5,346.99 L476.5,346.95 L479.6,346.91 L482.6,346.87 L485.6,346.84"/>
<path d="M159.5,392.67 L162.5,392.18 L165.5,391.70 L168.6,391.22 L171.6,390.76 L174.6,390.30 L177.6,389.86 L180.6,389.42 L183.7,388.99 L186.7,388.57 L189.7,388.16 L192.7,387.75 L195.7,387.36 L198.8,386.97 L201.8,386.59 L204.8,386.22 L207.8,385.86 L210.8,385.50 L213.9,385.16 L216.9,384.81 L219.9,384.48 L222.9,384.16 L225.9,383.84 L228.9,383.52 L232.0,383.22 L235.0,382.92 L238.0,382.63 L241.0,382.34 L244.0,382.06 L247.1,381.79 L250.1,381.52 L253.1,381.26 L256.1,381.01 L259.1,380.77 L262.2,380.53 L265.2,380.30 L268.2,380.08 L271.2,379.86 L274.2,379.65 L277.3,379.44 L280.3,379.24 L283.3,379.05 L286.3,378.86 L289.3,378.67 L292.4,378.49 L295.4,378.31 L298.4,378.14 L301.4,377.96 L304.4,377.80 L307.5,377.63 L310.5,377.48 L313.5,377.32 L316.5,377.17 L319.5,377.02 L322.6,376.88 L325.6,376.74 L328.6,376.60 L331.6,376.46 L334.6,376.33 L337.6,376.20 L340.7,376.07 L343.7,375.94 L346.7,375.81 L349.7,375.69 L352.7,375.57 L355.8,375.45 L358.8,375.33 L361.8,375.21 L364.8,375.09 L367.8,374.98 L370.9,374.87 L373.9,374.75 L376.9,374.64 L379.9,374.53 L382.9,374.43 L386.0,374.32 L389.0,374.21 L392.0,374.11 L395.0,374.00 L398.0,373.90 L401.1,373.80 L404.1,373.69 L407.1,373.59 L410.1,373.49 L413.1,373.39 L416.2,373.29 L419.2,373.18 L422.2,373.08 L425.2,372.97 L428.2,372.86 L431.3,372.74 L434.3,372.62 L437.3,372.50 L440.3,372.38 L443.3,372.25 L446.3,372.12 L449.4,371.99 L452.4,371.85 L455.4,371.71 L458.4,371.57 L461.4,371.42 L464.5,371.27 L467.5,371.11 L470.5,370.96 L473.5,370.79 L476.5,370.63 L479.6,370.46 L482.6,370.28 L485.6,370.10"/>
<path d="M170.4,500.93 L173.4,499.69 L176.4,498.43 L179.4,497.15 L182.4,495.89 L185.4,494.59 L188.4,493.24 L191.4,491.80 L194.4,490.32 L197.4,488.79 L200.4,487.23 L203.4,485.66 L206.4,484.07 L209.4,482.45 L212.4,480.77 L215.4,479.03 L218.4,477.27 L221.4,475.49 L224.4,473.69 L227.4,471.84 L230.4,469.85 L233.4,467.80 L236.4,465.77 L239.4,463.78 L242.4,461.77 L245.4,459.80 L248.4,457.91 L251.5,456.11 L254.5,454.34 L257.5,452.61 L260.5,450.93 L263.5,449.30 L266.5,447.72 L269.5,446.19 L272.5,444.72 L275.5,443.33 L278.5,442.06 L281.5,440.85 L284.5,439.64 L287.5,438.41 L290.5,437.20 L293.5,436.03 L296.5,434.90 L299.5,433.80 L302.5,432.74 L305.5,431.71 L308.5,430.70 L311.5,429.71 L314.5,428.75 L317.5,427.83 L320.5,426.93 L323.5,426.06 L326.5,425.21 L329.5,424.40 L332.5,423.60 L335.5,422.85 L338.5,422.14 L341.5,421.45 L344.5,420.78 L347.5,420.10 L350.5,419.45 L353.5,418.81 L356.5,418.20 L359.5,417.60 L362.5,417.02 L365.5,416.46 L368.5,415.91 L371.5,415.37 L374.5,414.82 L377.5,414.28 L380.5,413.77 L383.5,413.29 L386.5,412.82 L389.5,412.36 L392.5,411.91 L395.5,411.46 L398.5,410.99 L401.5,410.53 L404.5,410.08 L407.6,409.65 L410.6,409.24 L413.6,408.83 L416.6,408.44 L419.6,408.05 L422.6,407.68 L425.6,407.31 L428.6,406.95 L431.6,406.61 L434.6,406.27 L437.6,405.94 L440.6,405.61 L443.6,405.29 L446.6,404.98 L449.6,404.67 L452.6,404.36 L455.6,404.06 L458.6,403.77 L461.6,403.47 L464.6,403.19 L467.6,402.90 L470.6,402.62 L473.6,402.34 L476.6,402.07 L479.6,401.80 L482.6,401.53 L485.6,401.26"/>
<path d="M344.2,501.17 L347.2,499.68 L350.2,498.19 L353.2,496.73 L356.2,495.28 L359.2,493.85 L362.3,492.43 L365.3,491.04 L368.3,489.65 L371.3,488.29 L374.3,486.94 L377.3,485.61 L380.3,484.30 L383.3,483.00 L386.3,481.72 L389.3,480.46 L392.3,479.22 L395.3,477.99 L398.4,476.78 L401.4,475.59 L404.4,474.41 L407.4,473.26 L410.4,472.12 L413.4,470.99 L416.4,469.89 L419.4,468.80 L422.4,467.73 L425.4,466.68 L428.4,465.65 L431.4,464.63 L434.5,463.64 L437.5,462.66 L440.5,461.70 L443.5,460.75 L446.5,459.83 L449.5,458.92 L452.5,458.03 L455.5,457.16 L458.5,456.31 L461.5,455.48 L464.5,454.66 L467.5,453.86 L470.6,453.09 L473.6,452.33 L476.6,451.58 L479.6,450.86 L482.6,450.16 L485.6,449.47"/>
</g>
<path d="M51.2,392.6 H159.8" stroke="#0000ff" stroke-width="5" fill="none"/>
<rect x="441" y="294.9" width="30" height="27" fill="#fff"/>
<text x="456.5" y="316.6" text-anchor="middle" class="lab">(b)</text>
<path d="M105.50,501.1 v-5.0 M105.50,283.95 v5.0" stroke="#111" stroke-width="1.6" fill="none"/>
<path d="M159.80,501.1 v-5.0 M159.80,283.95 v5.0" stroke="#111" stroke-width="1.6" fill="none"/>
<path d="M214.10,501.1 v-5.0 M214.10,283.95 v5.0" stroke="#111" stroke-width="1.6" fill="none"/>
<path d="M268.40,501.1 v-5.0 M268.40,283.95 v5.0" stroke="#111" stroke-width="1.6" fill="none"/>
<path d="M322.70,501.1 v-5.0 M322.70,283.95 v5.0" stroke="#111" stroke-width="1.6" fill="none"/>
<path d="M377.00,501.1 v-5.0 M377.00,283.95 v5.0" stroke="#111" stroke-width="1.6" fill="none"/>
<path d="M431.30,501.1 v-5.0 M431.30,283.95 v5.0" stroke="#111" stroke-width="1.6" fill="none"/>
<path d="M51.2,446.89 h5.0 M485.6,446.89 h-5.0" stroke="#111" stroke-width="1.6" fill="none"/>
<path d="M51.2,392.60 h5.0 M485.6,392.60 h-5.0" stroke="#111" stroke-width="1.6" fill="none"/>
<path d="M51.2,338.31 h5.0 M485.6,338.31 h-5.0" stroke="#111" stroke-width="1.6" fill="none"/>
<rect x="51.2" y="283.95" width="434.40" height="217.15" fill="none" stroke="#111" stroke-width="1.9"/>
<path transform="translate(211.7,286.03) rotate(0.3)" d="M0,0 L-10,-3.8 L-6.8,0 L-10,3.8 Z" fill="#b5122f"/>
<path transform="translate(211.5,297.74) rotate(1.1)" d="M0,0 L-10,-3.8 L-6.8,0 L-10,3.8 Z" fill="#b5122f"/>
<path transform="translate(212.5,311.20) rotate(0.9)" d="M0,0 L-10,-3.8 L-6.8,0 L-10,3.8 Z" fill="#b5122f"/>
<path transform="translate(215.5,326.94) rotate(1.1)" d="M0,0 L-10,-3.8 L-6.8,0 L-10,3.8 Z" fill="#b5122f"/>
<path transform="translate(222.3,348.03) rotate(1.7)" d="M0,0 L-10,-3.8 L-6.8,0 L-10,3.8 Z" fill="#b5122f"/>
<path transform="translate(238.0,382.63) rotate(-5.6)" d="M0,0 L-10,-3.8 L-6.8,0 L-10,3.8 Z" fill="#b5122f"/>
<path transform="translate(292.6,436.37) rotate(-21.9)" d="M0,0 L-10,-3.8 L-6.8,0 L-10,3.8 Z" fill="#b5122f"/>
<path transform="translate(374.6,486.80) rotate(-24.3)" d="M0,0 L-10,-3.8 L-6.8,0 L-10,3.8 Z" fill="#b5122f"/>
<text transform="translate(51.2,522.4) scale(1,1.03)" text-anchor="middle" class="t">-20</text>
<text transform="translate(105.5,522.4) scale(1,1.03)" text-anchor="middle" class="t">-10</text>
<text transform="translate(159.8,522.4) scale(1,1.03)" text-anchor="middle" class="t">0</text>
<text transform="translate(214.1,522.4) scale(1,1.03)" text-anchor="middle" class="t">10</text>
<text transform="translate(268.4,522.4) scale(1,1.03)" text-anchor="middle" class="t">20</text>
<text transform="translate(322.7,522.4) scale(1,1.03)" text-anchor="middle" class="t">30</text>
<text transform="translate(377.0,522.4) scale(1,1.03)" text-anchor="middle" class="t">40</text>
<text transform="translate(431.3,522.4) scale(1,1.03)" text-anchor="middle" class="t">50</text>
<text transform="translate(485.6,522.4) scale(1,1.03)" text-anchor="middle" class="t">60</text>
<text transform="translate(46.5,507.8) scale(1,1.03)" text-anchor="end" class="t">-20</text>
<text transform="translate(46.5,453.5) scale(1,1.03)" text-anchor="end" class="t">-10</text>
<text transform="translate(46.5,399.2) scale(1,1.03)" text-anchor="end" class="t">0</text>
<text transform="translate(46.5,344.9) scale(1,1.03)" text-anchor="end" class="t">10</text>
<text transform="translate(46.5,290.6) scale(1,1.03)" text-anchor="end" class="t">20</text>
<text x="268.3" y="544.2" text-anchor="middle" class="xl">x</text>
<text transform="translate(17.7,392.20000000000005) rotate(-90)" text-anchor="middle" class="yl">y</text>
</svg>
</body></html>
